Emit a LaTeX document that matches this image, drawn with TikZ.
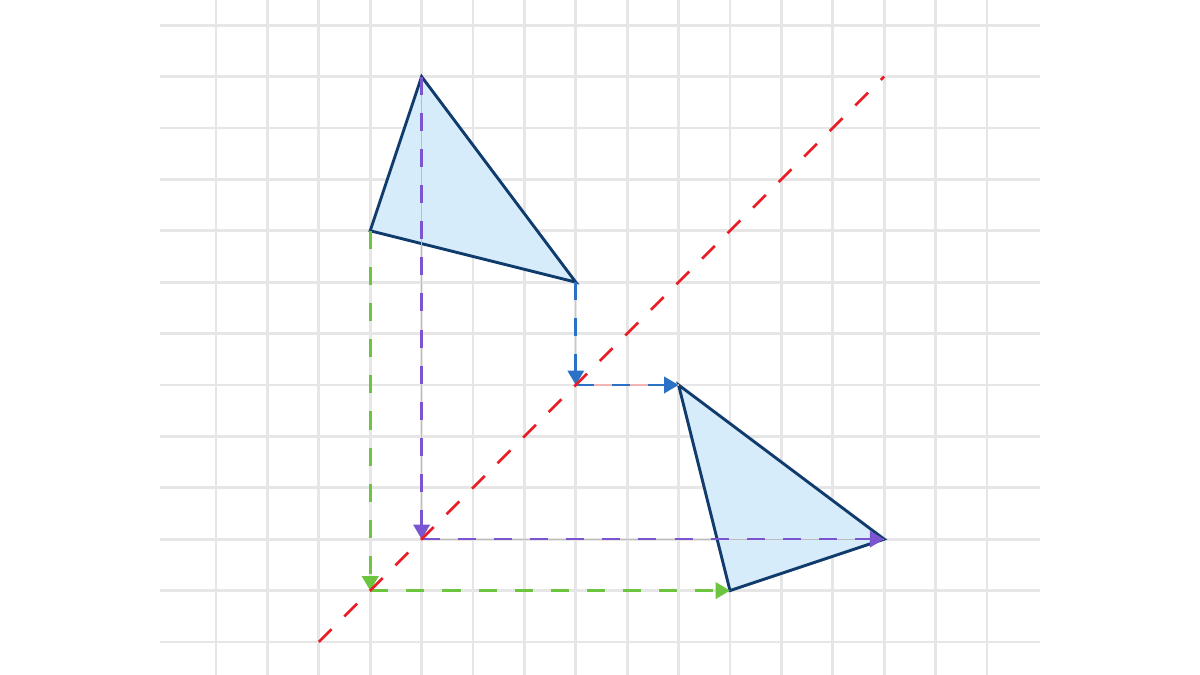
\documentclass[tikz,border=0pt]{standalone}
\usetikzlibrary{arrows.meta}
\definecolor{gridc}{HTML}{E6E6E6}
\definecolor{trifill}{HTML}{D7ECFA}
\definecolor{tristroke}{HTML}{0F3B6D}
\definecolor{redc}{HTML}{EC1C24}
\definecolor{greenc}{HTML}{6CC43F}
\definecolor{purplec}{HTML}{7B55D0}
\definecolor{bluec}{HTML}{2B72C6}
\definecolor{pinkc}{HTML}{F2B5B5}
\definecolor{grayc}{HTML}{BDBDBD}
\tikzset{
  gridline/.style={draw=gridc, line width=1.6pt},
  tri/.style={fill=trifill, draw=tristroke, line width=1.6pt},
  tip/.style={-{Triangle[length=8pt,width=9pt]}},
  dashpat/.style={dash pattern=on 10pt off 10pt},
  greenarrow/.style={tip, dashpat, draw=greenc, line width=1.7pt},
  purplearrow/.style={tip, dashpat, draw=purplec, line width=1.3pt},
  bluearrow/.style={tip, dashpat, draw=bluec, line width=1.5pt},
  underline/.style={line width=0.6pt},
  mirror/.style={draw=redc, line width=1.5pt, dashpat}
}
\begin{document}
\begin{tikzpicture}
\useasboundingbox (-4.2023,-0.6420) rectangle (19.1440,12.4903);
\fill[white] (-4.2023,-0.6420) rectangle (19.1440,12.4903);
% grid
\foreach \x in {0,...,15} \draw[gridline] (\x,-0.642) -- (\x,12.4903);
\foreach \y in {0,...,12} \draw[gridline] (-1.09,\y) -- (16.03,\y);
% points
\coordinate (A) at (4,11);
\coordinate (B) at (3,8);
\coordinate (C) at (7,7);
\coordinate (A2) at (13,2);
\coordinate (B2) at (10,1);
\coordinate (C2) at (9,5);
\coordinate (PA) at (4,2);
\coordinate (PB) at (3,1);
\coordinate (PC) at (7,5);
\coordinate (L1) at (2,0);
\coordinate (L2) at (13,11);
% triangles
\draw[tri] (A) -- (B) -- (C) -- cycle;
\draw[tri] (A2) -- (B2) -- (C2) -- cycle;
% faint underlines
\draw[underline, draw=pinkc] (C) -- (PC) -- (C2);
\draw[underline, draw=grayc] (A) -- (PA) -- (A2);
% dashed arrows
\draw[greenarrow] (B) -- (PB);
\draw[greenarrow] (PB) -- (B2);
\draw[purplearrow] (A) -- (PA);
\draw[purplearrow] (PA) -- (A2);
\draw[bluearrow] (C) -- (PC);
\draw[bluearrow] (PC) -- (C2);
% mirror line
\draw[mirror] (L1) -- (L2);
\end{tikzpicture}
\end{document}
